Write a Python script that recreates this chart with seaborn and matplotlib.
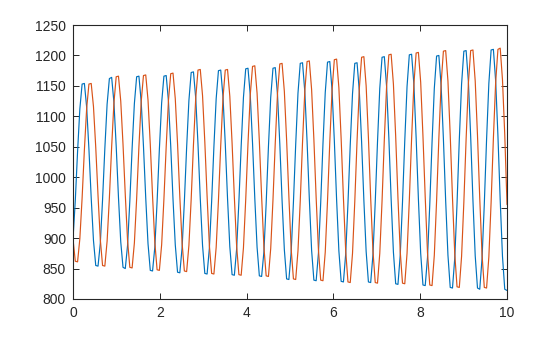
import numpy as np
import pandas as pd
import matplotlib
matplotlib.use("Agg")
import matplotlib.pyplot as plt
import seaborn as sns

blue_values = [
    899, 962, 1042, 1112, 1153, 1154, 1115, 1046, 966, 896, 855, 854,
    891, 963, 1047, 1120, 1162, 1164, 1123, 1051, 967, 894, 852, 850,
    888, 961, 1047, 1121, 1165, 1166, 1124, 1051, 966, 891, 847, 846,
    885, 960, 1046, 1122, 1166, 1167, 1125, 1051, 964, 889, 844, 843,
    884, 960, 1049, 1126, 1172, 1173, 1130, 1054, 965, 888, 842, 841,
    883, 960, 1050, 1129, 1175, 1176, 1132, 1055, 965, 886, 840, 839,
    882, 960, 1051, 1131, 1178, 1179, 1135, 1056, 965, 885, 838, 837,
    877, 957, 1050, 1131, 1179, 1180, 1135, 1055, 962, 881, 833, 832,
    877, 959, 1054, 1138, 1187, 1188, 1141, 1059, 964, 880, 831, 830,
    875, 958, 1055, 1139, 1189, 1190, 1143, 1060, 963, 879, 829, 828,
    874, 957, 1053, 1137, 1187, 1188, 1141, 1058, 962, 878, 828, 827,
    873, 959, 1058, 1146, 1197, 1198, 1149, 1064, 964, 877, 825, 824,
    872, 959, 1060, 1149, 1201, 1202, 1153, 1065, 964, 875, 823, 822,
    868, 955, 1057, 1146, 1199, 1200, 1150, 1063, 961, 872, 819, 818,
    867, 957, 1062, 1153, 1207, 1208, 1157, 1067, 962, 871, 818, 816,
    866, 956, 1062, 1154, 1209, 1210, 1158, 1068, 962, 870, 816, 814,
]

orange_values = [
    898, 862, 861, 899, 966, 1045, 1113, 1153, 1154, 1116, 1049, 970,
    898, 855, 854, 895, 966, 1050, 1122, 1165, 1166, 1125, 1054, 971,
    896, 852, 851, 892, 965, 1050, 1124, 1167, 1168, 1127, 1054, 969,
    893, 848, 847, 889, 964, 1050, 1126, 1170, 1171, 1129, 1055, 968,
    892, 846, 845, 888, 964, 1053, 1130, 1176, 1177, 1134, 1058, 969,
    888, 842, 841, 885, 962, 1052, 1130, 1176, 1177, 1133, 1056, 967,
    887, 840, 839, 884, 963, 1055, 1135, 1182, 1183, 1138, 1059, 968,
    886, 838, 837, 883, 963, 1056, 1138, 1186, 1187, 1141, 1061, 968,
    882, 833, 832, 879, 961, 1057, 1141, 1190, 1191, 1144, 1062, 966,
    881, 831, 830, 877, 961, 1058, 1143, 1193, 1194, 1147, 1063, 966,
    879, 828, 827, 875, 960, 1060, 1146, 1197, 1198, 1150, 1065, 965,
    879, 827, 826, 875, 961, 1062, 1149, 1201, 1202, 1153, 1067, 966,
    878, 826, 825, 875, 962, 1063, 1152, 1204, 1205, 1156, 1068, 967,
    876, 823, 822, 872, 961, 1064, 1154, 1207, 1208, 1158, 1069, 966,
    874, 820, 819, 870, 959, 1063, 1154, 1208, 1209, 1158, 1069, 965,
    873, 819, 818, 869, 959, 1064, 1156, 1210, 1212, 1160, 1070, 955,
]

x_ticks = [0, 2, 4, 6, 8, 10]
y_ticks = [800, 850, 900, 950, 1000, 1050, 1100, 1150, 1200, 1250]

t = np.linspace(0, 10, len(blue_values))
df = pd.DataFrame({"t": np.concatenate([t, t]),
                   "value": blue_values + orange_values,
                   "series": ["blue"] * len(blue_values) + ["orange"] * len(orange_values)})

sns.set_theme(style="white")
plt.rcParams["font.family"] = ["Liberation Sans", "DejaVu Sans"]

fig = plt.figure(figsize=(5.6, 3.37), dpi=100)
ax = fig.add_axes([0.1304, 0.1128, 0.775, 0.813])

sns.lineplot(data=df, x="t", y="value", hue="series",
             palette={"blue": "#0072BD", "orange": "#D95319"},
             estimator=None, sort=False, linewidth=0.85, legend=False, ax=ax)

ax.set_xlim(0, 10)
ax.set_ylim(800, 1250)
ax.set_xticks(x_ticks)
ax.set_yticks(y_ticks)
ax.set_xticklabels([str(v) for v in x_ticks])
ax.set_yticklabels([str(v) for v in y_ticks])
ax.set_xlabel("")
ax.set_ylabel("")
for s in ax.spines.values():
    s.set_visible(True)
    s.set_color("#262626")
    s.set_linewidth(0.8)
ax.tick_params(axis="both", which="major", direction="in", length=4, width=0.7,
               color="#262626", labelcolor="#262626", labelsize=10,
               top=True, right=True, bottom=True, left=True, pad=5)
ax.grid(False)
ax.set_facecolor("white")
fig.patch.set_facecolor("white")

fig.savefig("out.png", dpi=100)
